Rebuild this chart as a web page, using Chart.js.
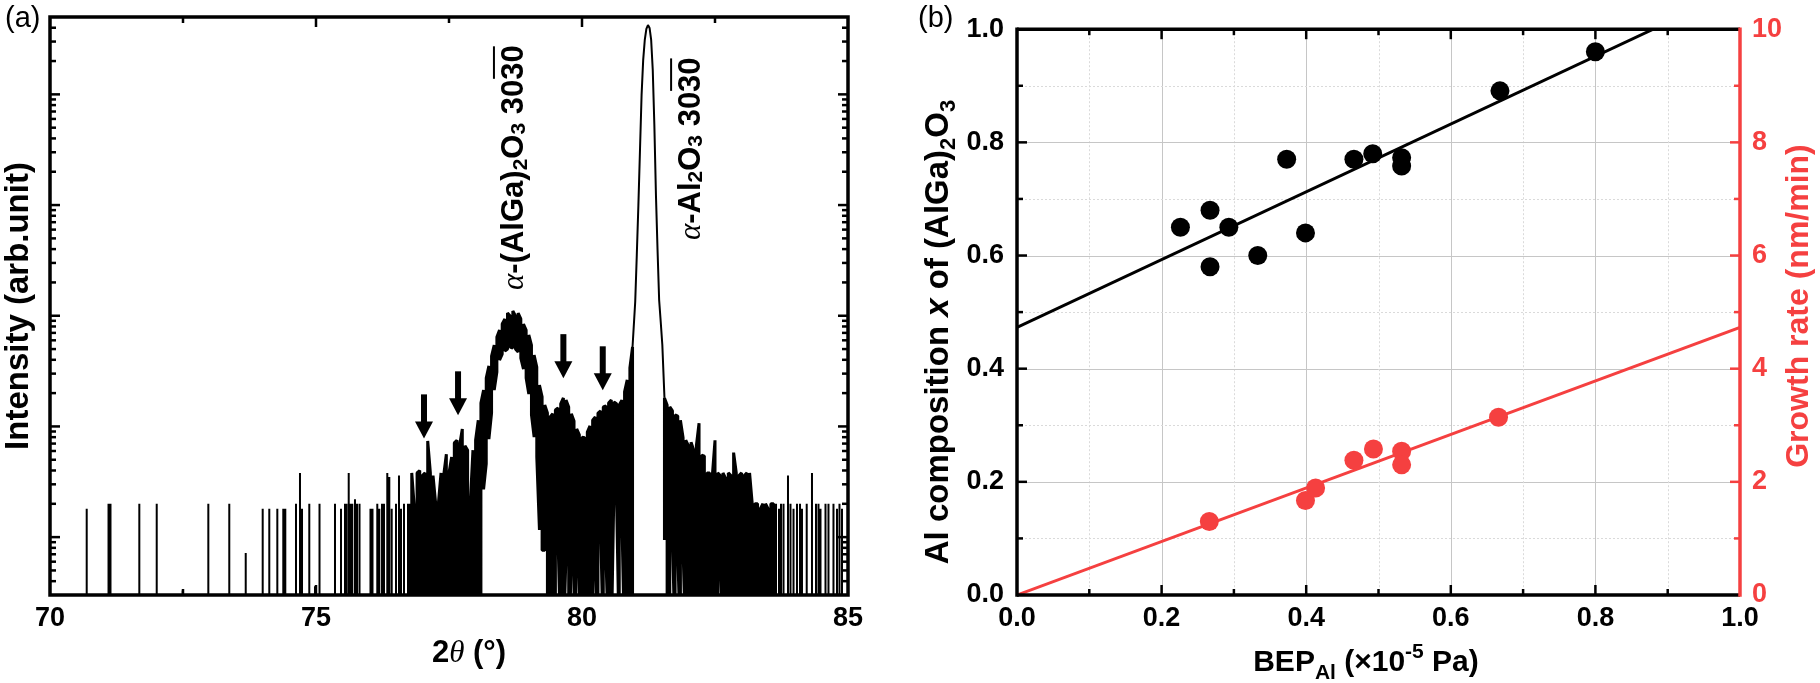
<!DOCTYPE html>
<html><head><meta charset="utf-8">
<script src="https://cdn.jsdelivr.net/npm/chart.js@4.4.0/dist/chart.umd.min.js"></script>
<style>
html,body{margin:0;padding:0;background:#fff;}
#wrap{position:relative;width:1820px;height:683px;overflow:hidden;background:#fff;}
canvas{position:absolute;top:0;}
#ca{left:0;} #cb{left:910px;}
</style></head><body>
<div id="wrap"><canvas id="ca" width="910" height="683"></canvas><canvas id="cb" width="910" height="683"></canvas></div>
<script>
// ===================== Panel (a): XRD 2theta scan (log intensity) =====================
// isolated count spikes, low-angle side
const sparseTheta = [70.690, 71.100, 71.137, 71.679, 72.006, 72.494, 72.976, 73.370, 73.679, 73.998,
  74.122, 74.273, 74.385, 74.423, 74.624, 74.699, 74.737, 74.874, 74.981, 75.066,
  75.357, 75.470, 75.545, 75.573, 75.615, 75.648, 75.682, 75.733, 75.771, 75.818,
  76.024, 76.062, 76.152, 76.190, 76.241, 76.278, 76.340, 76.378, 76.423, 76.504,
  76.560, 76.598, 76.654, 76.729, 76.767];
const sparseCounts = [18, 20, 20, 20, 20, 3.3, 20, 20, 7.2, 18,
  18, 18, 18, 18, 20, 38, 18, 20, 3.6, 20,
  20, 18, 20, 20, 38, 20, 20, 22, 20, 20,
  18, 18, 20, 18, 20, 20, 38, 35, 18, 20,
  36, 18, 20, 20, 20];
// dense noisy band, 76.80-80.95 deg, 0.05 deg steps: upper and lower intensity of the noise
const bandLeftStart = 76.80, bandStep = 0.05;
const bandLeftHigh = [38, 18, 38, 40, 36, 38, 74, 38, 36, 20,
  20, 38, 36, 56, 38, 53, 71, 75, 68, 95,
  67, 61, 20, 61, 75, 114, 163, 213, 274, 352,
  433, 544, 643, 743, 842, 935, 1059, 995, 1104, 995,
  1059, 935, 842, 743, 670, 544, 442, 344, 237, 185,
  156, 132, 122, 130, 141, 147, 160, 181, 173, 150,
  130, 112, 95, 84, 80, 79, 89, 101, 114, 122,
  132, 138, 150, 153, 163, 173, 166, 160, 156, 173,
  205, 263, 337, 522];
const bandLeftLow = [0, 0, 0, 0, 0, 0, 0, 0, 0, 0,
  0, 0, 0, 0, 0, 0, 0, 0, 0, 0,
  0, 0, 0, 0, 0, 0, 0, 27, 46, 77,
  132, 213, 310, 398, 451, 480, 501, 522, 511, 501,
  470, 415, 330, 274, 196, 127, 80, 53, 11.6, 7.6,
  7.6, 0, 0, 0, 0, 9.4, 0, 0, 7.2, 0,
  5.6, 0, 5.4, 0, 0, 0, 0, 0, 0, 5.0,
  0, 12.3, 0, 6.6, 0, 0, 27, 22, 0, 14.3,
  0, 0, 0, 0];
// alpha-Al2O3 (30-30) substrate peak
const peakTheta = [81.00, 81.03, 81.06, 81.09, 81.12, 81.15, 81.18, 81.21, 81.24, 81.27,
  81.30, 81.33, 81.36, 81.39, 81.42, 81.45, 81.48, 81.51];
const peakCounts = [1331, 3540, 10000, 31400, 98700, 204000, 310000, 390000, 423000, 398000,
  310000, 166000, 52900, 12300, 3930, 1388, 878, 544];
// dense noisy band, 81.55-83.60 deg
const bandRightStart = 81.55;
const bandRightHigh = [181, 156, 150, 138, 127, 124, 114, 79, 75, 67,
  72, 61, 67, 107, 55, 54, 38, 38, 36, 75,
  38, 36, 38, 34, 38, 36, 58, 38, 36, 38,
  36, 38, 38, 20, 20, 20, 18, 20, 20, 18,
  20, 20];
const bandRightLow = [9.4, 0, 0, 10, 0, 7.2, 0, 7.6, 0, 0,
  0, 0, 0, 0, 0, 0, 0, 0, 0, 0,
  0, 5, 0, 0, 0, 0, 0, 0, 0, 0,
  0, 0, 0, 0, 0, 0, 0, 0, 0, 0,
  0, 0];
// isolated count spikes, high-angle side
const tailTheta = [83.647, 83.703, 83.741, 83.788, 83.872, 83.919, 83.976, 84.041, 84.098, 84.135,
  84.224, 84.323, 84.398, 84.445, 84.483, 84.577, 84.633, 84.727, 84.793, 84.840, 84.887];
const tailCounts = [20, 18, 20, 20, 36, 20, 18, 20, 20, 18,
  20, 38, 20, 20, 18, 20, 20, 20, 18, 20, 18];
// arrows marking thickness fringes
const arrowTheta = [77.03, 77.67, 79.65, 80.39];
const arrowCounts = [78, 126, 273, 212];
const xTicksA = [70, 75, 80, 85];

// ===================== Panel (b): composition / growth rate vs BEP =====================
const bepComp = [0.226, 0.267, 0.267, 0.293, 0.333, 0.373, 0.399, 0.466, 0.492, 0.532, 0.532, 0.668, 0.800];
const alComp  = [0.650, 0.680, 0.580, 0.650, 0.600, 0.770, 0.640, 0.770, 0.780, 0.773, 0.758, 0.891, 0.960];
const bepRate = [0.266, 0.399, 0.413, 0.466, 0.493, 0.532, 0.532, 0.666];
const growthRate = [1.30, 1.67, 1.89, 2.38, 2.58, 2.54, 2.30, 3.14];
const compFitBEP = [0, 0.88];
const compFit = [0.473, 1.0];
const rateFitBEP = [0, 1.0];
const rateFit = [0, 4.73];

// ---------------------------------------------------------------------------------
const SANS = '"Liberation Sans", Arial, sans-serif';
const SERIF = '"Liberation Serif", "Times New Roman", serif';
const RED = '#f54040';
const FLOOR = 1; // zero counts are drawn at the bottom of the log axis
Chart.defaults.font.family = SANS;
Chart.defaults.color = '#000';

function pairs(xs, ys) { return xs.map((x, i) => ({x: x, y: ys[i]})); }
const fl = v => (v > 0 ? v : FLOOR);

const spikePts = [];
[[sparseTheta, sparseCounts], [tailTheta, tailCounts]].forEach(([ts, cs]) => {
  ts.forEach((t, i) => { spikePts.push({x: t, y: FLOOR}, {x: t, y: cs[i]}, {x: t, y: FLOOR}); });
});
// noise band traced as the detector trace: low -> high -> high -> low ... at each step
function zigzag(start, highs, lows) {
  const pts = [];
  highs.forEach((v, i) => {
    const t = +(start + i * bandStep).toFixed(3);
    const lo = {x: t, y: fl(lows[i])}, hi = {x: t, y: fl(v)};
    if (i % 2) pts.push(hi, lo); else pts.push(lo, hi);
  });
  return pts;
}
const zigLeft = zigzag(bandLeftStart, bandLeftHigh, bandLeftLow);
const zigRight = zigzag(bandRightStart, bandRightHigh, bandRightLow);
// substrate peak line, joined to the neighbouring band edges
const lastL = bandLeftHigh.length - 1;
const peakPts = [{x: +(bandLeftStart + lastL * bandStep).toFixed(3), y: bandLeftHigh[lastL]}]
  .concat(pairs(peakTheta, peakCounts))
  .concat([{x: bandRightStart, y: bandRightHigh[0]}]);

function line(ctx, x1, y1, x2, y2) { ctx.beginPath(); ctx.moveTo(x1, y1); ctx.lineTo(x2, y2); ctx.stroke(); }
function drawRich(ctx, runs, x, y, rot, align, color) {
  ctx.save(); ctx.translate(x, y); if (rot) ctx.rotate(rot);
  ctx.fillStyle = color || '#000'; ctx.textBaseline = 'alphabetic'; ctx.textAlign = 'left';
  let w = 0; runs.forEach(r => { ctx.font = r.f; w += ctx.measureText(r.t).width; });
  let cx = align === 'center' ? -w / 2 : 0;
  runs.forEach(r => {
    ctx.font = r.f; ctx.fillText(r.t, cx, r.dy || 0);
    const rw = ctx.measureText(r.t).width;
    if (r.bar) { // overline on the last two Miller-Bravais digits
      const w0 = ctx.measureText(r.t.slice(0, r.t.length - 2)).width;
      ctx.strokeStyle = color || '#000'; ctx.lineWidth = 2;
      line(ctx, cx + w0 + 1, r.bar, cx + rw - 1, r.bar);
    }
    cx += rw;
  });
  ctx.restore();
}

const annotations = [
  {theta: 78.89, counts: 1710, runs: [
    {t: 'α', f: `italic 31px ${SERIF}`},
    {t: '-(AlGa)', f: `bold 31px ${SANS}`},
    {t: '2', f: `bold 21px ${SANS}`, dy: 4},
    {t: 'O', f: `bold 31px ${SANS}`},
    {t: '3', f: `bold 21px ${SANS}`, dy: 2},
    {t: ' 3030', f: `bold 31px ${SANS}`, bar: -29}]},
  {theta: 82.22, counts: 4830, runs: [
    {t: 'α', f: `italic 31px ${SERIF}`},
    {t: '-Al', f: `bold 31px ${SANS}`},
    {t: '2', f: `bold 21px ${SANS}`, dy: 2},
    {t: 'O', f: `bold 31px ${SANS}`},
    {t: '3', f: `bold 21px ${SANS}`, dy: 2},
    {t: ' 3030', f: `bold 31px ${SANS}`, bar: -29}]}
];

const frameA = {
  id: 'frameA',
  afterDatasetsDraw(chart) {
    const {ctx, chartArea: a, scales: {x, y}} = chart;
    ctx.save();
    ctx.strokeStyle = '#000'; ctx.lineWidth = 2.5;
    for (let v = 72.5; v < 85; v += 2.5) {
      const len = (v % 5 === 0) ? 10 : 6; const px = x.getPixelForValue(v);
      line(ctx, px, a.bottom, px, a.bottom - len); line(ctx, px, a.top, px, a.top + len);
    }
    for (let k = 0; k <= 5; k++) for (let m = 1; m <= 9; m++) {
      const v = m * Math.pow(10, k); if (v <= y.min || v >= y.max) continue;
      const py = y.getPixelForValue(v); const len = m === 1 ? 10 : 6;
      line(ctx, a.left, py, a.left + len, py); line(ctx, a.right, py, a.right - len, py);
    }
    ctx.lineWidth = 3.5; ctx.strokeRect(a.left, a.top, a.right - a.left, a.bottom - a.top);
    // arrows
    ctx.fillStyle = '#000';
    arrowTheta.forEach((t, i) => {
      const px = x.getPixelForValue(t), py = y.getPixelForValue(arrowCounts[i]);
      ctx.fillRect(px - 3, py - 44, 6, 29);
      ctx.beginPath(); ctx.moveTo(px - 9, py - 17); ctx.lineTo(px + 9, py - 17); ctx.lineTo(px, py); ctx.closePath(); ctx.fill();
    });
    annotations.forEach(an => {
      drawRich(ctx, an.runs, x.getPixelForValue(an.theta), y.getPixelForValue(an.counts), -Math.PI / 2, 'left');
    });
    ctx.restore();
  },
  afterDraw(chart) {
    const ctx = chart.ctx;
    drawRich(ctx, [{t: '(a)', f: `29px ${SANS}`}], 5, 27, 0, 'left');
    drawRich(ctx, [{t: 'Intensity (arb.unit)', f: `bold 33px ${SANS}`}], 28, 306, -Math.PI / 2, 'center');
    drawRich(ctx, [{t: '2', f: `bold 31px ${SANS}`}, {t: 'θ', f: `italic 31px ${SERIF}`}, {t: ' (°)', f: `bold 31px ${SANS}`}], 469, 662, 0, 'center');
  }
};

const traceStyle = {borderColor: '#000', pointRadius: 0, tension: 0, fill: false, borderJoinStyle: 'bevel', clip: 1};
new Chart(document.getElementById('ca'), {
  type: 'line',
  data: {datasets: [
    Object.assign({data: peakPts, borderWidth: 2}, traceStyle),
    Object.assign({data: spikePts, borderWidth: 2}, traceStyle),
    Object.assign({data: zigLeft, borderWidth: 3}, traceStyle),
    Object.assign({data: zigRight, borderWidth: 3}, traceStyle)
  ]},
  options: {
    responsive: false, animation: false, devicePixelRatio: 1, events: [],
    layout: {padding: {left: 0, right: 62, top: 17, bottom: 0}},
    plugins: {legend: {display: false}, tooltip: {enabled: false}},
    scales: {
      x: {type: 'linear', min: 70, max: 85, offset: false,
        afterBuildTicks: s => { s.ticks = xTicksA.map(v => ({value: v})); },
        ticks: {font: {size: 27, weight: 'bold'}, color: '#000', padding: 7, maxRotation: 0, autoSkip: false},
        grid: {display: false, drawTicks: false}, border: {display: false},
        afterFit: s => { s.height = 88; }},
      y: {type: 'logarithmic', min: 3, max: 500000, bounds: 'data',
        ticks: {display: false}, grid: {display: false, drawTicks: false}, border: {display: false},
        afterFit: s => { s.width = 50; }}
    }
  },
  plugins: [frameA]
});

// ------------------------- panel (b) -------------------------
const frameB = {
  id: 'frameB',
  beforeDatasetsDraw(chart) {
    const {ctx, chartArea: a, scales: {x, y}} = chart;
    ctx.save(); ctx.lineWidth = 1;
    for (let i = 1; i < 10; i++) {
      const major = i % 2 === 0;
      ctx.strokeStyle = major ? '#c6c6c6' : '#dadada'; ctx.setLineDash(major ? [] : [2, 2]);
      const px = Math.round(x.getPixelForValue(i / 10)) + 0.5;
      line(ctx, px, a.top, px, a.bottom);
      const py = Math.round(y.getPixelForValue(i / 10)) + 0.5;
      line(ctx, a.left, py, a.right, py);
    }
    ctx.restore();
  },
  afterDatasetsDraw(chart) {
    const {ctx, chartArea: a, scales: {x, y, y2}} = chart;
    ctx.save(); ctx.lineWidth = 2.5; ctx.strokeStyle = '#000';
    for (let i = 1; i < 10; i++) {
      const len = i % 2 === 0 ? 10 : 6;
      const px = x.getPixelForValue(i / 10);
      line(ctx, px, a.bottom, px, a.bottom - len); line(ctx, px, a.top, px, a.top + len);
      const py = y.getPixelForValue(i / 10);
      line(ctx, a.left, py, a.left + len, py);
    }
    ctx.strokeStyle = RED;
    for (let v = 1; v < 10; v++) {
      const len = v % 2 === 0 ? 10 : 6; const py = y2.getPixelForValue(v);
      line(ctx, a.right, py, a.right - len, py);
    }
    ctx.lineWidth = 3.5; ctx.strokeStyle = '#000';
    line(ctx, a.left, a.top, a.right, a.top);
    line(ctx, a.left, a.bottom, a.right, a.bottom);
    line(ctx, a.left, a.top - 1.75, a.left, a.bottom + 1.75);
    ctx.strokeStyle = RED;
    line(ctx, a.right, a.top - 1.75, a.right, a.bottom + 1.75);
    ctx.restore();
  },
  afterDraw(chart) {
    const ctx = chart.ctx;
    drawRich(ctx, [{t: '(b)', f: `29px ${SANS}`}], 8, 27, 0, 'left');
    drawRich(ctx, [
      {t: 'Al composition ', f: `bold 33px ${SANS}`},
      {t: 'x', f: `italic bold 33px ${SANS}`},
      {t: ' of (AlGa)', f: `bold 33px ${SANS}`},
      {t: '2', f: `bold 22px ${SANS}`, dy: 7},
      {t: 'O', f: `bold 33px ${SANS}`},
      {t: '3', f: `bold 22px ${SANS}`, dy: 7}], 38, 332, -Math.PI / 2, 'center');
    drawRich(ctx, [{t: 'Growth rate (nm/min)', f: `bold 32px ${SANS}`}], 898, 306, -Math.PI / 2, 'center', RED);
    drawRich(ctx, [
      {t: 'BEP', f: `bold 30px ${SANS}`},
      {t: 'Al', f: `bold 21px ${SANS}`, dy: 8},
      {t: ' (×10', f: `bold 30px ${SANS}`},
      {t: '-5', f: `bold 21px ${SANS}`, dy: -13},
      {t: ' Pa)', f: `bold 30px ${SANS}`}], 456, 671, 0, 'center');
  }
};

new Chart(document.getElementById('cb'), {
  type: 'line',
  data: {datasets: [
    {data: pairs(bepComp, alComp), yAxisID: 'y', showLine: false, pointRadius: 9.5, pointBackgroundColor: '#000', pointBorderWidth: 0, borderColor: '#000'},
    {data: pairs(bepRate, growthRate), yAxisID: 'y2', showLine: false, pointRadius: 9.5, pointBackgroundColor: RED, pointBorderWidth: 0, borderColor: RED},
    {data: pairs(compFitBEP, compFit), yAxisID: 'y', borderColor: '#000', borderWidth: 3, pointRadius: 0, fill: false},
    {data: pairs(rateFitBEP, rateFit), yAxisID: 'y2', borderColor: RED, borderWidth: 3, pointRadius: 0, fill: false}
  ]},
  options: {
    responsive: false, animation: false, devicePixelRatio: 1, events: [],
    layout: {padding: {left: 0, right: 0, top: 17, bottom: 0}},
    plugins: {legend: {display: false}, tooltip: {enabled: false}},
    scales: {
      x: {type: 'linear', min: 0, max: 1,
        ticks: {stepSize: 0.2, callback: v => v.toFixed(1), font: {size: 27, weight: 'bold'}, color: '#000', padding: 7, maxRotation: 0, autoSkip: false},
        grid: {display: false, drawTicks: false}, border: {display: false},
        afterFit: s => { s.height = 88; }},
      y: {type: 'linear', position: 'left', min: 0, max: 1,
        ticks: {stepSize: 0.2, callback: v => v.toFixed(1), font: {size: 27, weight: 'bold'}, color: '#000', padding: 13},
        grid: {display: false, drawTicks: false}, border: {display: false},
        afterFit: s => { s.width = 107; }},
      y2: {type: 'linear', position: 'right', min: 0, max: 10,
        ticks: {stepSize: 2, font: {size: 27, weight: 'bold'}, color: RED, padding: 12},
        grid: {display: false, drawTicks: false}, border: {display: false},
        afterFit: s => { s.width = 80; }}
    }
  },
  plugins: [frameB]
});
</script>
</body></html>
